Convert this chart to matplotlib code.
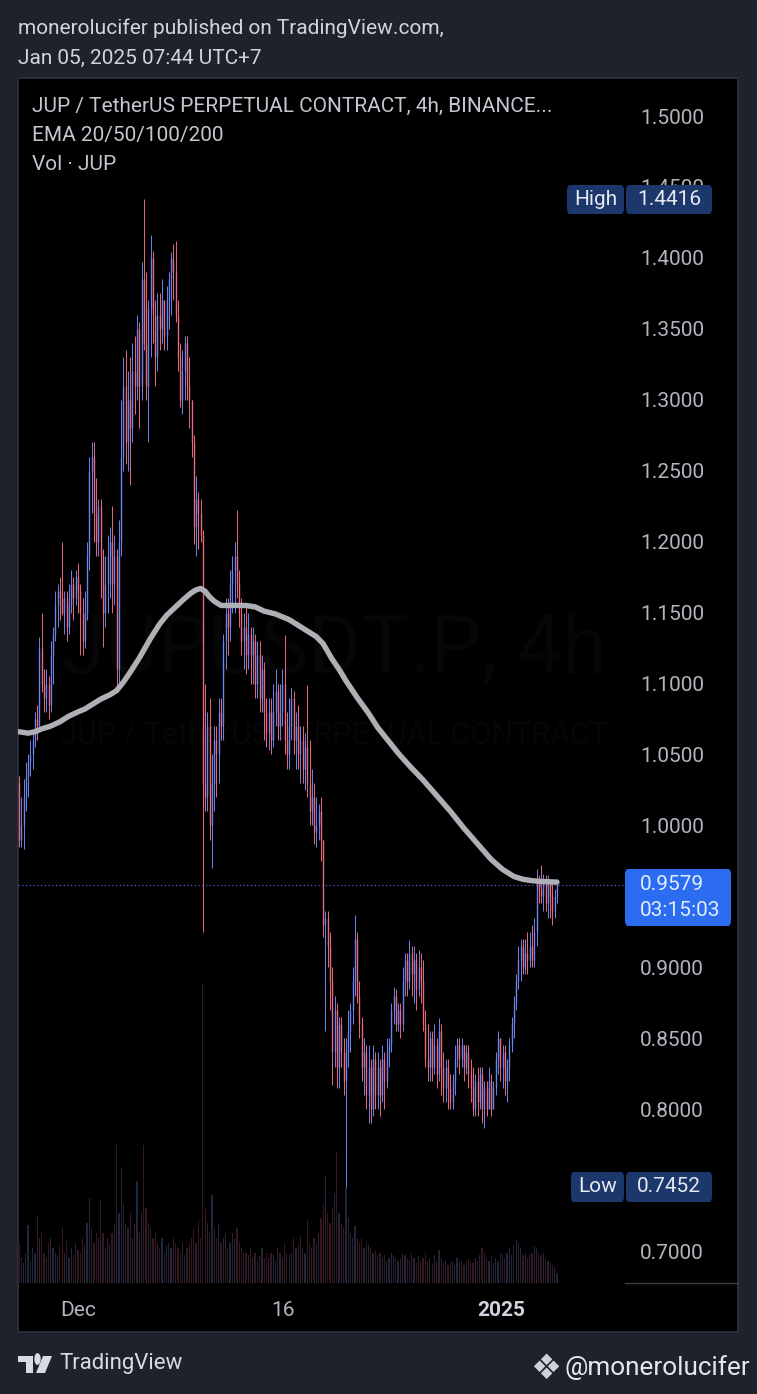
import matplotlib
matplotlib.use('Agg')
import matplotlib.pyplot as plt
from matplotlib.patches import Rectangle, FancyBboxPatch, Polygon, Circle
import numpy as np
import pandas as pd

plt.rcParams['font.family'] = ['Roboto', 'DejaVu Sans']

# ---------------- data ----------------
first_open = 1.03
close_ = [
    0.99, 1.00, 1.02, 1.035, 1.045, 1.05, 1.06, 1.075, 1.07, 1.125,
    1.10, 1.09, 1.10, 1.085, 1.12, 1.135, 1.155, 1.165, 1.16, 1.15,
    1.16, 1.14, 1.155, 1.17, 1.16, 1.175, 1.165, 1.15, 1.13, 1.15,
    1.19, 1.25, 1.26, 1.22, 1.20, 1.225, 1.19, 1.15, 1.17, 1.19,
    1.20, 1.17, 1.19, 1.11, 1.20, 1.26, 1.31, 1.27, 1.30, 1.28,
    1.32, 1.31, 1.35, 1.31, 1.385, 1.34, 1.31, 1.365, 1.40, 1.36,
    1.33, 1.36, 1.35, 1.37, 1.345, 1.37, 1.385, 1.40, 1.39, 1.36,
    1.33, 1.30, 1.32, 1.34, 1.31, 1.30, 1.27, 1.21, 1.23, 1.22,
    1.205, 1.03, 1.02, 1.07, 1.00, 1.03, 1.06, 1.05, 1.08, 1.07,
    1.13, 1.15, 1.14, 1.17, 1.18, 1.19, 1.17, 1.15, 1.13, 1.14,
    1.12, 1.135, 1.12, 1.13, 1.10, 1.12, 1.09, 1.11, 1.08, 1.065,
    1.08, 1.06, 1.08, 1.095, 1.07, 1.08, 1.10, 1.06, 1.05, 1.07,
    1.09, 1.06, 1.07, 1.05, 1.06, 1.04, 1.055, 1.03, 1.01, 1.02,
    0.995, 1.00, 1.01, 0.99, 0.93, 0.935, 0.915, 0.89, 0.84, 0.87,
    0.83, 0.86, 0.84, 0.82, 0.84, 0.855, 0.87, 0.89, 0.92, 0.88,
    0.86, 0.83, 0.84, 0.81, 0.83, 0.80, 0.835, 0.81, 0.83, 0.81,
    0.835, 0.82, 0.84, 0.845, 0.87, 0.88, 0.86, 0.87, 0.86, 0.89,
    0.905, 0.89, 0.91, 0.895, 0.905, 0.885, 0.90, 0.89, 0.86, 0.835,
    0.83, 0.85, 0.83, 0.845, 0.825, 0.855, 0.83, 0.815, 0.83, 0.815,
    0.805, 0.82, 0.835, 0.845, 0.835, 0.845, 0.83, 0.84, 0.825, 0.815,
    0.80, 0.82, 0.805, 0.825, 0.80, 0.815, 0.80, 0.82, 0.80, 0.815,
    0.835, 0.85, 0.83, 0.84, 0.82, 0.83, 0.845, 0.86, 0.875, 0.89,
    0.905, 0.915, 0.90, 0.91, 0.905, 0.915, 0.905, 0.925, 0.96, 0.955,
    0.95, 0.96, 0.945, 0.96, 0.95, 0.94, 0.95, 0.9579]
high_ = [
    1.035, 1.02, 1.033, 1.045, 1.05, 1.06, 1.066, 1.08, 1.085, 1.133,
    1.15, 1.11, 1.11, 1.105, 1.13, 1.14, 1.165, 1.17, 1.175, 1.20,
    1.165, 1.165, 1.17, 1.18, 1.175, 1.18, 1.185, 1.17, 1.16, 1.165,
    1.20, 1.26, 1.27, 1.27, 1.245, 1.23, 1.23, 1.195, 1.19, 1.205,
    1.21, 1.225, 1.205, 1.195, 1.215, 1.30, 1.33, 1.335, 1.32, 1.33,
    1.34, 1.345, 1.36, 1.355, 1.397, 1.4416, 1.39, 1.37, 1.416, 1.405,
    1.37, 1.375, 1.375, 1.385, 1.37, 1.38, 1.39, 1.404, 1.41, 1.412,
    1.37, 1.34, 1.335, 1.345, 1.345, 1.33, 1.30, 1.275, 1.246, 1.235,
    1.23, 1.208, 1.10, 1.08, 1.09, 1.05, 1.07, 1.07, 1.09, 1.09,
    1.135, 1.16, 1.16, 1.18, 1.19, 1.20, 1.222, 1.18, 1.16, 1.15,
    1.155, 1.15, 1.14, 1.14, 1.135, 1.13, 1.13, 1.12, 1.115, 1.09,
    1.09, 1.09, 1.10, 1.11, 1.10, 1.10, 1.11, 1.134, 1.08, 1.09,
    1.097, 1.095, 1.08, 1.085, 1.07, 1.07, 1.065, 1.099, 1.06, 1.04,
    1.03, 1.02, 1.015, 1.02, 0.99, 0.94, 0.94, 0.925, 0.90, 0.88,
    0.875, 0.865, 0.865, 0.85, 0.85, 0.87, 0.875, 0.90, 0.937, 0.925,
    0.89, 0.865, 0.85, 0.845, 0.845, 0.835, 0.845, 0.84, 0.84, 0.835,
    0.845, 0.84, 0.85, 0.85, 0.875, 0.886, 0.885, 0.875, 0.875, 0.90,
    0.91, 0.91, 0.919, 0.915, 0.915, 0.91, 0.912, 0.91, 0.905, 0.87,
    0.86, 0.855, 0.855, 0.86, 0.85, 0.864, 0.86, 0.84, 0.835, 0.835,
    0.825, 0.825, 0.845, 0.85, 0.85, 0.85, 0.845, 0.845, 0.845, 0.835,
    0.83, 0.825, 0.83, 0.83, 0.83, 0.82, 0.82, 0.83, 0.825, 0.82,
    0.84, 0.855, 0.85, 0.845, 0.845, 0.835, 0.85, 0.865, 0.88, 0.895,
    0.915, 0.92, 0.92, 0.92, 0.925, 0.925, 0.93, 0.935, 0.969, 0.965,
    0.972, 0.966, 0.965, 0.965, 0.962, 0.96, 0.955, 0.962]
low_ = [
    0.985, 0.985, 0.983, 1.01, 1.02, 1.035, 1.04, 1.055, 1.06, 1.07,
    1.094, 1.08, 1.08, 1.075, 1.08, 1.10, 1.13, 1.14, 1.145, 1.148,
    1.135, 1.13, 1.135, 1.15, 1.145, 1.155, 1.15, 1.12, 1.12, 1.125,
    1.145, 1.18, 1.22, 1.20, 1.19, 1.19, 1.16, 1.126, 1.14, 1.15,
    1.16, 1.15, 1.155, 1.095, 1.10, 1.19, 1.25, 1.255, 1.25, 1.24,
    1.27, 1.29, 1.30, 1.28, 1.30, 1.335, 1.30, 1.27, 1.33, 1.34,
    1.31, 1.32, 1.335, 1.34, 1.335, 1.335, 1.35, 1.36, 1.37, 1.355,
    1.32, 1.295, 1.29, 1.30, 1.30, 1.28, 1.26, 1.198, 1.19, 1.195,
    1.20, 0.925, 1.01, 1.01, 0.99, 0.97, 1.01, 1.02, 1.03, 1.06,
    1.06, 1.11, 1.12, 1.13, 1.15, 1.15, 1.16, 1.14, 1.12, 1.11,
    1.107, 1.11, 1.10, 1.10, 1.09, 1.09, 1.08, 1.08, 1.06, 1.055,
    1.053, 1.05, 1.055, 1.07, 1.06, 1.06, 1.07, 1.05, 1.04, 1.04,
    1.06, 1.05, 1.04, 1.04, 1.03, 1.03, 1.025, 1.02, 1.00, 1.00,
    0.987, 0.985, 0.99, 0.975, 0.921, 0.855, 0.90, 0.87, 0.817, 0.83,
    0.815, 0.815, 0.83, 0.81, 0.7452, 0.83, 0.84, 0.86, 0.88, 0.875,
    0.85, 0.82, 0.81, 0.80, 0.79, 0.79, 0.795, 0.80, 0.80, 0.795,
    0.805, 0.80, 0.815, 0.83, 0.84, 0.86, 0.855, 0.855, 0.85, 0.855,
    0.88, 0.88, 0.885, 0.88, 0.875, 0.87, 0.88, 0.875, 0.855, 0.83,
    0.82, 0.82, 0.82, 0.825, 0.815, 0.82, 0.81, 0.805, 0.805, 0.80,
    0.80, 0.80, 0.81, 0.83, 0.825, 0.83, 0.82, 0.825, 0.815, 0.805,
    0.795, 0.795, 0.795, 0.80, 0.79, 0.787, 0.795, 0.80, 0.795, 0.80,
    0.81, 0.825, 0.82, 0.815, 0.81, 0.805, 0.82, 0.84, 0.85, 0.87,
    0.885, 0.89, 0.895, 0.895, 0.895, 0.90, 0.90, 0.90, 0.915, 0.945,
    0.945, 0.94, 0.94, 0.935, 0.935, 0.93, 0.935, 0.945]
volume_ = [
    40, 25, 20, 30, 58, 22, 35, 30, 68, 45,
    50, 30, 25, 40, 45, 35, 30, 28, 38, 55,
    30, 42, 25, 35, 28, 40, 33, 30, 45, 38,
    60, 85, 55, 40, 50, 45, 83, 50, 35, 45,
    40, 50, 60, 138, 70, 115, 80, 60, 55, 70,
    45, 60, 102, 50, 70, 138, 75, 60, 55, 45,
    50, 40, 35, 45, 30, 38, 40, 35, 45, 40,
    35, 30, 40, 28, 35, 40, 45, 55, 40, 62,
    45, 300, 75, 60, 50, 88, 55, 45, 60, 40,
    45, 50, 35, 40, 50, 45, 55, 40, 35, 30,
    30, 28, 35, 25, 30, 22, 28, 35, 25, 30,
    25, 30, 28, 22, 35, 30, 25, 40, 30, 28,
    30, 45, 35, 40, 47, 35, 30, 63, 40, 35,
    45, 40, 50, 65, 80, 107, 70, 60, 75, 90,
    131, 70, 60, 55, 96, 65, 50, 45, 57, 45,
    40, 45, 35, 40, 38, 35, 30, 32, 28, 30,
    25, 28, 22, 25, 30, 28, 25, 22, 25, 30,
    28, 25, 22, 30, 25, 20, 28, 22, 25, 30,
    22, 25, 20, 28, 22, 33, 25, 20, 22, 18,
    20, 22, 18, 25, 20, 22, 18, 20, 25, 22,
    20, 25, 22, 28, 35, 30, 25, 22, 28, 20,
    25, 22, 30, 28, 25, 30, 35, 28, 38, 43,
    40, 35, 28, 30, 25, 28, 30, 37, 35, 30,
    28, 30, 25, 22, 20, 18, 15, 10]
ema_idx = [0, 4, 7, 10, 14, 18, 22, 26, 29, 33, 36, 40, 43, 46, 49, 53, 58, 62,
           65, 69, 73, 76, 78, 80, 82, 84, 86, 89, 94, 100, 104, 108, 113, 119,
           124, 128, 131, 134, 138, 141, 144, 149, 154, 158, 163, 167, 172, 178,
           184, 190, 196, 202, 208, 213, 218, 222, 226, 230, 237]
ema_val = [1.066, 1.065, 1.066, 1.068, 1.070, 1.073, 1.077, 1.080, 1.082, 1.086,
           1.089, 1.092, 1.095, 1.101, 1.108, 1.118, 1.132, 1.142, 1.148, 1.154,
           1.160, 1.164, 1.166, 1.167, 1.165, 1.161, 1.158, 1.155, 1.155, 1.155,
           1.154, 1.151, 1.149, 1.145, 1.140, 1.136, 1.133, 1.128, 1.117, 1.110,
           1.102, 1.090, 1.079, 1.069, 1.059, 1.051, 1.042, 1.032, 1.021, 1.010,
           0.998, 0.987, 0.976, 0.969, 0.964, 0.962, 0.961, 0.9605, 0.960]
price_ticks = [0.70, 0.75, 0.80, 0.85, 0.90, 0.95, 1.00, 1.05, 1.10, 1.15,
               1.20, 1.25, 1.30, 1.35, 1.40, 1.45, 1.50]
hidden_ticks = [0.75, 0.95]   # covered by the Low / last-price labels
time_tick_dates = ['2024-12-01', '2024-12-16', '2025-01-01']
time_tick_labels = ['Dec', '16', '2025']
first_candle_time = '2024-11-26 15:00'
last_price = 0.9579
high_price = 1.4416
low_price = 0.7452

# ---------------- derived ----------------
close = np.array(close_)
n = len(close)
opn = np.concatenate([[first_open], close[:-1]])
high = np.maximum(np.array(high_), np.maximum(opn, close))
low = np.minimum(np.array(low_), np.minimum(opn, close))
idx = np.arange(n)
up = close >= opn
UPC, DNC = '#6e84ec', '#e86a7c'
cols = np.where(up, UPC, DNC)
vcols = np.where(up, '#23263a', '#37181e')

t0 = pd.Timestamp(first_candle_time)
tick_pos = [(pd.Timestamp(d) - t0) / pd.Timedelta('4h') for d in time_tick_dates]

# ---------------- figure ----------------
W, H = 757, 1394
fig = plt.figure(figsize=(W / 100, H / 100), dpi=100)
fig.patch.set_facecolor('#1e222d')

def fx(x):
    return x / W

def fy(y):
    return 1 - y / H

fig.patches.append(Rectangle((fx(18), fy(1332)), fx(738) - fx(18), fy(78) - fy(1332),
                             transform=fig.transFigure, facecolor='black',
                             edgecolor='#2c303b', lw=1.3, zorder=-2))
fig.lines.append(plt.Line2D([fx(625), fx(738)], [fy(1283), fy(1283)],
                            transform=fig.transFigure, color='#3a3e4a', lw=1.0, zorder=-1))

rect = [fx(18), fy(1283), fx(625) - fx(18), fy(79) - fy(1283)]
xlim = (-0.44, 266.96)

axv = fig.add_axes(rect)
axv.set_zorder(1)
axv.axis('off')
axv.bar(idx, volume_, width=0.55, color=vcols, linewidth=0)
axv.set_xlim(*xlim)
axv.set_ylim(0, 1204)

ax = fig.add_axes(rect)
ax.set_zorder(2)
ax.patch.set_visible(False)
for s in ax.spines.values():
    s.set_visible(False)
ax.set_xlim(*xlim)
ax.set_ylim(0.67745, 1.52608)

# watermark (barely visible)
ax.text(0.52, 0.525, 'JUPUSDT.P, 4h', transform=ax.transAxes, ha='center', va='center',
        fontsize=58, color='#060606', zorder=0, clip_on=True)
ax.text(0.52, 0.455, 'JUP / TetherUS PERPETUAL CONTRACT', transform=ax.transAxes,
        ha='center', va='center', fontsize=22, color='#060606', zorder=0, clip_on=True)

ax.axhline(last_price, color='#4d62d0', lw=0.9, ls=(0, (1, 2)), zorder=1)

ax.vlines(idx, low, high, colors=cols, lw=0.7, zorder=3)
ax.vlines(idx, np.minimum(opn, close), np.maximum(opn, close), colors=cols, lw=1.0, zorder=3)

ax.plot(ema_idx, ema_val, color='#aeb0b6', lw=3.9, solid_joinstyle='round',
        solid_capstyle='round', zorder=4)

ax.yaxis.tick_right()
ax.set_yticks(price_ticks)
ax.set_yticklabels(['' if t in hidden_ticks else f'{t:.4f}' for t in price_ticks])
ax.tick_params(axis='y', length=0, pad=11, labelsize=15, labelcolor='#b2b5be')
ax.set_xticks(tick_pos)
ax.set_xticklabels(time_tick_labels)
ax.tick_params(axis='x', length=0, pad=13, labelsize=15, labelcolor='#b2b5be')
ax.get_xticklabels()[2].set_fontweight('bold')
ax.get_xticklabels()[2].set_color('#d1d4dc')

# ---------------- labels on price scale ----------------
def box(x0, x1, y0, y1, color):
    p = FancyBboxPatch((fx(x0), fy(y1)), fx(x1) - fx(x0), fy(y0) - fy(y1),
                       boxstyle='round,pad=0,rounding_size=0.004',
                       transform=fig.transFigure, facecolor=color, edgecolor='none',
                       zorder=10)
    fig.patches.append(p)

def ftext(x, y, s, size, color, ha='left', weight='normal', family=None):
    kw = {}
    if family is not None:
        kw['family'] = family
    fig.text(fx(x), fy(y), s, ha=ha, va='center', fontsize=size, color=color,
             fontweight=weight, zorder=11, **kw)

NAVY = '#1b376c'
box(567, 624, 185, 214, NAVY)
box(626, 712, 185, 214, NAVY)
ftext(595.5, 199.5, 'High', 15, '#e6e9f0', ha='center')
ftext(669, 199.5, f'{high_price:.4f}', 15, '#e6e9f0', ha='center')

box(571, 624, 1172, 1202, NAVY)
box(626, 712, 1172, 1202, NAVY)
ftext(597.5, 1187, 'Low', 15, '#e6e9f0', ha='center')
ftext(669, 1187, f'{low_price:.4f}', 15, '#e6e9f0', ha='center')

box(625, 731, 869, 926, '#2b6cf0')
ftext(640, 885, f'{last_price:.4f}', 15, '#e3ebff')
ftext(640, 910, '03:15:03', 15, '#e3ebff')

# ---------------- header / footer texts ----------------
ftext(18, 28, 'monerolucifer published on TradingView.com,', 15, '#d1d4dc')
ftext(18, 58, 'Jan 05, 2025 07:44 UTC+7', 15, '#d1d4dc')
ftext(32, 106, 'JUP / TetherUS PERPETUAL CONTRACT, 4h, BINANCE...', 15, '#c3c6ce')
ftext(32, 136, 'EMA 20/50/100/200', 15, '#c3c6ce')
ftext(32, 165, 'Vol \u00b7 JUP', 15, '#c3c6ce')

# TradingView logo
LC = '#d8dbe2'
fig.patches.append(Polygon([(fx(18), fy(1356)), (fx(33), fy(1356)), (fx(33), fy(1373)),
                            (fx(26), fy(1373)), (fx(26), fy(1362)), (fx(18), fy(1362))],
                           closed=True, transform=fig.transFigure, facecolor=LC,
                           edgecolor='none', zorder=10))
fig.patches.append(Circle((fx(37.5), fy(1359)), 3.2 / W, transform=fig.transFigure,
                          facecolor=LC, edgecolor='none', zorder=10))
fig.patches.append(Polygon([(fx(43), fy(1356)), (fx(52), fy(1356)), (fx(45), fy(1373)),
                            (fx(36), fy(1373))], closed=True, transform=fig.transFigure,
                           facecolor=LC, edgecolor='none', zorder=10))
ftext(59, 1364, 'TradingView', 16, '#d8dbe2')

ftext(546, 1369, '\u2756', 25, '#cfd1d6', ha='center', family=['DejaVu Sans'])
ftext(750, 1368, '@monerolucifer', 18.8, '#e6e7ea', ha='right')

fig.savefig('out.png', dpi=100, facecolor=fig.get_facecolor())
